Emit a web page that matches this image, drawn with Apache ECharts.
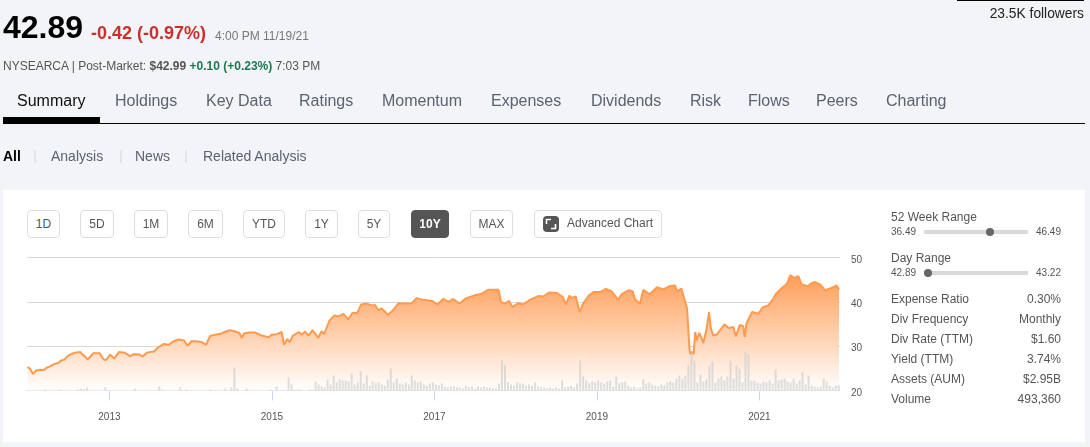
<!DOCTYPE html>
<html>
<head>
<meta charset="utf-8">
<title>42.89</title>
<script src="https://cdn.jsdelivr.net/npm/echarts@6/dist/echarts.min.js"></script>
<style>
  html, body { margin: 0; padding: 0; }
  body { width: 1090px; height: 447px; background: #f2f4f8; position: relative; overflow: hidden;
    font-family: "Liberation Sans", Arial, sans-serif; color: #555; }
  .t { position: absolute; white-space: nowrap; line-height: 1; }
  .card { position: absolute; left: 3px; top: 190px; width: 1082px; height: 252px; background: #fff; }
  #main { position: absolute; left: 0; top: 0; width: 1090px; height: 447px; }
  .tab { font-size: 16px; top: 93px; color: #5b6270; }
  .sub { font-size: 14px; top: 149px; color: #5b6270; }
  .sep { position: absolute; top: 150px; width: 2px; height: 13px; background: #e3e4e8; }
  .btn { position: absolute; top: 210px; height: 26px; line-height: 26px; text-align: center; box-sizing: content-box;
    border: 1px solid #ddd; border-radius: 4px; font-size: 12px; color: #555; background: #fff; }
  .btn.on { background: #555; border-color: #555; color: #fff; font-weight: bold; }
  .lab { font-size: 12px; color: #555; left: 891px; }
  .val { font-size: 12px; color: #555; right: 29px; }
  .small { font-size: 10px; color: #555; }
  .track { position: absolute; left: 924px; width: 104px; height: 4px; background: #d9d9d9; }
  .dot { position: absolute; width: 8px; height: 8px; border-radius: 50%; background: #666; }
</style>
</head>
<body>
<div class="card"></div>
<div id="main"></div>

<div class="t" style="left:3px;top:11px;font-size:32px;font-weight:bold;color:#000">42.89</div>
<div class="t" style="left:91px;top:24px;font-size:18px;font-weight:bold;color:#c9302c">-0.42 (-0.97%)</div>
<div class="t" style="left:215px;top:30px;font-size:12px;color:#777">4:00 PM 11/19/21</div>
<div class="t" style="left:3px;top:60px;font-size:12px;color:#555">NYSEARCA | Post-Market: <b>$42.99</b> <b style="color:#1d7a4f">+0.10 (+0.23%)</b> 7:03 PM</div>

<div style="position:absolute;left:957px;top:0;width:127px;height:1px;background:#000"></div>
<div class="t" style="right:6px;top:7px;font-size:13.8px;color:#222">23.5K followers</div>

<div class="t tab" style="left:17px;color:#111">Summary</div>
<div class="t tab" style="left:115px">Holdings</div>
<div class="t tab" style="left:206px">Key Data</div>
<div class="t tab" style="left:299px">Ratings</div>
<div class="t tab" style="left:382px">Momentum</div>
<div class="t tab" style="left:491px">Expenses</div>
<div class="t tab" style="left:591px">Dividends</div>
<div class="t tab" style="left:690px">Risk</div>
<div class="t tab" style="left:748px">Flows</div>
<div class="t tab" style="left:816px">Peers</div>
<div class="t tab" style="left:886px">Charting</div>
<div style="position:absolute;left:3px;top:123px;width:1082px;height:1px;background:#000"></div>
<div style="position:absolute;left:3px;top:117px;width:97px;height:6px;background:#000"></div>

<div class="t sub" style="left:3px;color:#000;font-weight:bold">All</div>
<div class="sep" style="left:34px"></div>
<div class="t sub" style="left:51px">Analysis</div>
<div class="sep" style="left:120px"></div>
<div class="t sub" style="left:135px">News</div>
<div class="sep" style="left:185px"></div>
<div class="t sub" style="left:203px">Related Analysis</div>

<div class="btn" style="left:27px;width:31px">1D</div>
<div class="btn" style="left:80px;width:32px">5D</div>
<div class="btn" style="left:134px;width:32px">1M</div>
<div class="btn" style="left:188px;width:33px">6M</div>
<div class="btn" style="left:243px;width:40px">YTD</div>
<div class="btn" style="left:305px;width:31px">1Y</div>
<div class="btn" style="left:358px;width:30px">5Y</div>
<div class="btn on" style="left:411px;width:36px">10Y</div>
<div class="btn" style="left:470px;width:41px">MAX</div>
<div class="btn" style="left:534px;width:126px"></div>
<svg style="position:absolute;left:543px;top:216px" width="16" height="16" viewBox="0 0 16 16">
  <rect width="16" height="16" rx="4" fill="#555"/>
  <path d="M3.5 8V3.5H8M8 12.5h4.5V8" fill="none" stroke="#fff" stroke-width="1.6"/>
</svg>
<div class="t" style="left:567px;top:217px;font-size:12px;color:#555">Advanced Chart</div>

<div class="t lab" style="top:211px">52 Week Range</div>
<div class="t small" style="left:891px;top:227px">36.49</div>
<div class="track" style="top:230px"></div>
<div class="dot" style="left:986px;top:228px"></div>
<div class="t small" style="right:29px;top:227px">46.49</div>
<div class="t lab" style="top:252px">Day Range</div>
<div class="t small" style="left:891px;top:268px">42.89</div>
<div class="track" style="top:271px"></div>
<div class="dot" style="left:924px;top:269px"></div>
<div class="t small" style="right:29px;top:268px">43.22</div>

<div class="t lab" style="top:293px">Expense Ratio</div><div class="t val" style="top:293px">0.30%</div>
<div class="t lab" style="top:313px">Div Frequency</div><div class="t val" style="top:313px">Monthly</div>
<div class="t lab" style="top:333px">Div Rate (TTM)</div><div class="t val" style="top:333px">$1.60</div>
<div class="t lab" style="top:353px">Yield (TTM)</div><div class="t val" style="top:353px">3.74%</div>
<div class="t lab" style="top:373px">Assets (AUM)</div><div class="t val" style="top:373px">$2.95B</div>
<div class="t lab" style="top:393px">Volume</div><div class="t val" style="top:393px">493,360</div>

<script>
// price line (decimal year / close)
let years = [
  2011.99, 2012.02, 2012.06, 2012.10, 2012.15, 2012.19, 2012.23, 2012.27, 2012.31, 2012.37, 2012.41, 2012.45,
  2012.49, 2012.54, 2012.58, 2012.64, 2012.67, 2012.70, 2012.73, 2012.76, 2012.80, 2012.88, 2012.93, 2012.96,
  2013.01, 2013.06, 2013.12, 2013.19, 2013.26, 2013.29, 2013.37, 2013.41, 2013.47, 2013.55, 2013.60, 2013.67,
  2013.73, 2013.79, 2013.85, 2013.92, 2013.96, 2014.01, 2014.07, 2014.14, 2014.19, 2014.24, 2014.30, 2014.37,
  2014.39, 2014.42, 2014.48, 2014.55, 2014.60, 2014.63, 2014.66, 2014.73, 2014.79, 2014.87, 2014.96, 2015.00,
  2015.06, 2015.12, 2015.15, 2015.19, 2015.22, 2015.26, 2015.33, 2015.37, 2015.41, 2015.45, 2015.50, 2015.57,
  2015.61, 2015.64, 2015.67, 2015.71, 2015.77, 2015.82, 2015.88, 2015.94, 2015.99, 2016.05, 2016.10, 2016.17,
  2016.23, 2016.27, 2016.31, 2016.35, 2016.43, 2016.49, 2016.56, 2016.64, 2016.72, 2016.78, 2016.86, 2016.97,
  2017.04, 2017.11, 2017.17, 2017.23, 2017.31, 2017.38, 2017.50, 2017.58, 2017.66, 2017.79, 2017.82, 2017.87,
  2017.92, 2017.96, 2018.03, 2018.09, 2018.18, 2018.28, 2018.34, 2018.41, 2018.51, 2018.58, 2018.62, 2018.66,
  2018.69, 2018.74, 2018.76, 2018.79, 2018.83, 2018.90, 2018.96, 2019.04, 2019.11, 2019.18, 2019.26, 2019.31,
  2019.39, 2019.44, 2019.47, 2019.53, 2019.57, 2019.65, 2019.74, 2019.82, 2019.90, 2019.96, 2019.99, 2020.04,
  2020.07, 2020.11, 2020.13, 2020.14, 2020.15, 2020.17, 2020.19, 2020.21, 2020.23, 2020.26, 2020.29, 2020.31,
  2020.35, 2020.38, 2020.40, 2020.43, 2020.48, 2020.52, 2020.57, 2020.62, 2020.68, 2020.71, 2020.76, 2020.80,
  2020.82, 2020.84, 2020.91, 2020.99, 2021.04, 2021.11, 2021.17, 2021.20, 2021.27, 2021.34, 2021.38, 2021.43,
  2021.48, 2021.52, 2021.60, 2021.63, 2021.68, 2021.75, 2021.81, 2021.87, 2021.95, 2021.98
]
let prices = [
  25.3, 25.0, 23.7, 24.5, 24.7, 24.6, 25.15, 25.45, 25.9, 26.2, 26.8, 27.0,
  27.8, 28.3, 28.5, 28.7, 28.1, 27.7, 27.0, 27.5, 28.4, 28.4, 27.0, 26.9,
  28.1, 27.2, 28.7, 28.5, 27.7, 28.2, 28.1, 27.7, 28.6, 28.8, 29.7, 30.5,
  30.3, 31.1, 31.5, 31.3, 30.1, 31.1, 31.1, 30.9, 30.3, 32.3, 32.6, 32.8,
  32.4, 33.2, 33.6, 33.3, 33.0, 31.9, 32.9, 33.1, 33.1, 32.4, 32.0, 32.6,
  32.7, 33.2, 30.3, 31.6, 30.9, 32.4, 33.2, 32.6, 33.3, 32.4, 33.6, 31.9,
  33.4, 32.7, 34.0, 35.8, 36.9, 36.7, 37.3, 36.0, 37.5, 37.5, 39.4, 39.6,
  39.2, 39.3, 38.1, 38.5, 37.1, 38.1, 39.7, 39.6, 39.7, 40.8, 40.5, 40.2,
  39.4, 40.7, 40.0, 40.6, 39.6, 40.7, 41.5, 41.8, 42.7, 42.7, 40.0, 39.6,
  40.2, 38.8, 39.7, 39.4, 40.5, 41.3, 41.2, 42.1, 42.0, 41.1, 39.4, 41.4,
  40.9, 41.2, 39.6, 37.7, 39.6, 41.4, 42.2, 42.2, 42.9, 42.4, 40.5, 41.8,
  42.6, 42.4, 40.5, 39.6, 42.7, 41.7, 43.3, 42.8, 43.6, 43.7, 42.4, 43.0,
  41.1, 38.5, 32.1, 29.1, 28.2, 28.7, 28.2, 33.2, 31.3, 33.0, 31.7, 30.7,
  33.9, 37.7, 34.3, 32.4, 32.7, 33.7, 34.9, 34.1, 34.3, 32.2, 34.8, 34.5,
  32.1, 35.1, 37.7, 37.3, 38.8, 39.2, 40.7, 41.7, 43.0, 44.1, 46.0, 45.4,
  45.8, 43.9, 43.5, 44.1, 44.5, 43.9, 42.6, 43.0, 43.7, 42.8
]
// volume bars, one per 0.037 year from the left edge, heights
let volumeStart = 2011.986
let volumeStep = 0.037
let volumes = [
  0, 0, 0, 0, 0, 0, 1, 0, 0, 0, 0, 1, 0, 0, 0, 0, 0, 1, 2, 1.5, 3, 0, 0, 0, 0, 0, 3, 0, 0, 0,
  0, 0, 0, 0, 0, 0, 2, 0, 0, 0, 0, 0, 0, 0, 4, 1, 0, 0, 0, 0, 0, 3, 0, 1, 0, 0, 0, 0, 0, 0,
  0, 1, 0, 0, 0, 0, 2, 0, 3, 23, 2, 0, 0, 2, 0, 0, 0, 0, 0, 0, 0, 1, 0, 4, 0, 1, 0, 13, 6, 1,
  1, 1, 0, 0, 1, 1, 9, 6, 4, 3, 11, 6, 15, 8, 11, 10, 10, 9, 17, 6, 8, 19, 7, 15, 5, 9, 7, 8, 6, 5,
  11, 22, 8, 12, 7, 6, 8, 6, 15, 10, 8, 9, 6, 5, 7, 8, 6, 5, 7, 4, 3, 4, 4, 3, 3, 2, 5, 3, 4, 2,
  4, 3, 4, 3, 3, 2, 2, 7, 30, 25, 8, 6, 5, 8, 7, 7, 5, 6, 5, 8, 4, 3, 3, 2, 3, 2, 3, 2, 10, 3,
  4, 5, 3, 7, 30, 14, 10, 7, 9, 8, 10, 8, 7, 9, 10, 4, 14, 7, 8, 9, 5, 3, 4, 2, 3, 11, 7, 8, 6, 5,
  4, 6, 5, 8, 9, 8, 12, 15, 12, 15, 25, 38, 30, 8, 16, 9, 11, 25, 29, 8, 12, 14, 10, 14, 30, 12, 25, 22, 8, 39,
  36, 10, 10, 8, 7, 9, 8, 10, 7, 21, 10, 11, 12, 9, 8, 12, 7, 10, 18, 6, 15, 5, 4, 3, 4, 12, 9, 5, 3, 5, 5
]
let yearTicks = [2013, 2015, 2017, 2019, 2021]

let myChart = echarts.init(document.getElementById('main'), null, { renderer: 'canvas' })

let option = {
  animation: false,
  backgroundColor: 'transparent',
  grid: { left: 27, right: 250, top: 257.5, height: 133 },
  xAxis: {
    type: 'value',
    min: 2011.986,
    max: 2021.992,
    splitLine: { show: false },
    axisLine: { lineStyle: { color: '#ccd6eb', width: 1 } },
    axisTick: { length: 10, customValues: yearTicks, lineStyle: { color: '#ccd6eb' } },
    axisLabel: {
      customValues: yearTicks,
      color: '#555',
      fontSize: 10,
      margin: 22,
      fontFamily: 'Liberation Sans',
      formatter: v => String(v)
    }
  },
  yAxis: [
    {
      type: 'value',
      position: 'right',
      min: 20,
      max: 50,
      interval: 10,
      axisLine: { show: false },
      axisTick: { show: false },
      splitLine: { lineStyle: { color: '#d8d8dc', width: 1 } },
      axisLabel: {
        margin: 11,
        verticalAlignMaxLabel: 'middle',
        verticalAlignMinLabel: 'middle',
        // rich padding pushes the digits a little below the gridline, as in the picture
        formatter: v => '{n|' + v + '}',
        rich: {
          n: { color: '#555', fontSize: 10, fontFamily: 'Liberation Sans', padding: [5, 0, 0, 0] }
        }
      }
    },
    { type: 'value', min: 0, max: 133, show: false }
  ],
  series: [
    {
      type: 'line',
      data: years.map((y, i) => [y, prices[i]]),
      showSymbol: false,
      lineStyle: { color: '#ff9a4f', width: 2 },
      areaStyle: {
        opacity: 1,
        color: new echarts.graphic.LinearGradient(0, 0, 0, 1, [
          { offset: 0, color: '#ff9e58' },
          { offset: 1, color: '#ffffff' }
        ])
      },
      z: 2
    },
    {
      type: 'bar',
      yAxisIndex: 1,
      data: volumes.map((v, i) => [volumeStart + i * volumeStep, v]),
      barWidth: 2,
      itemStyle: { color: 'rgba(205,205,205,0.65)' },
      z: 3
    }
  ]
}

myChart.setOption(option)
</script>
</body>
</html>
